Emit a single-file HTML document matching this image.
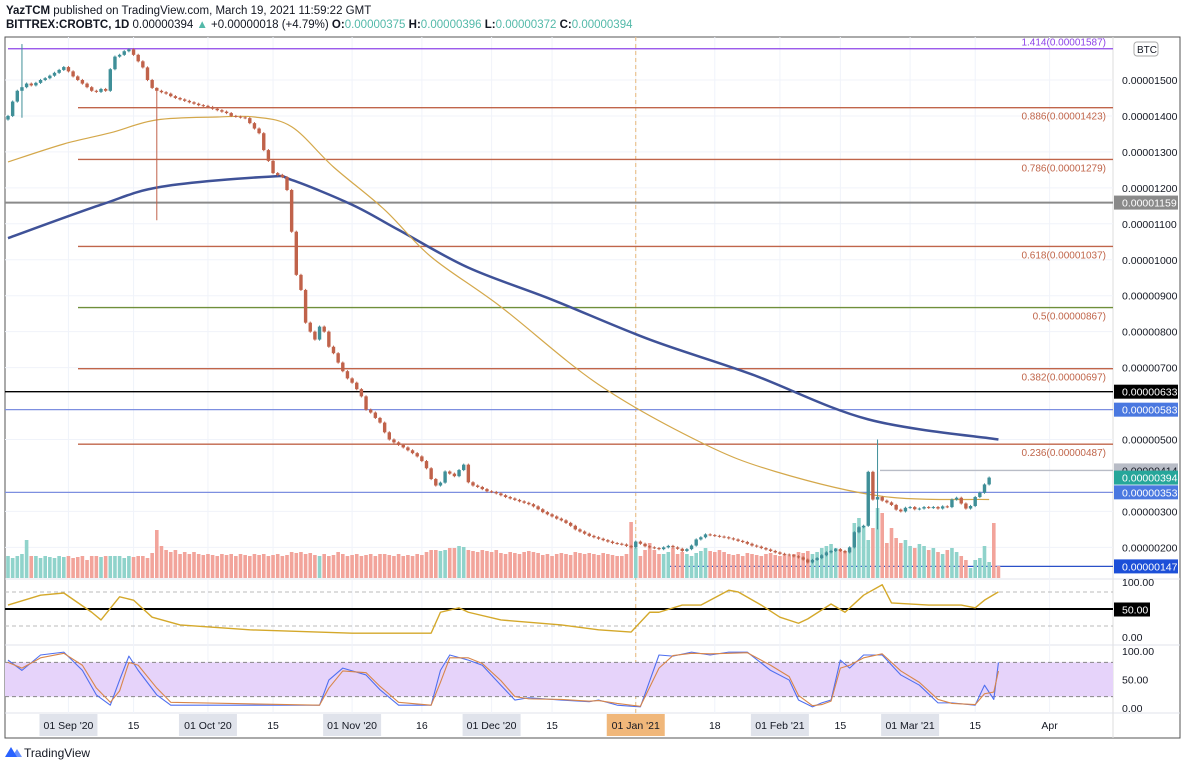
<!DOCTYPE html>
<html><head><meta charset="utf-8"><style>
body{margin:0;background:#fff;font-family:"Liberation Sans",sans-serif;}
svg text{font-family:"Liberation Sans",sans-serif;}
</style></head><body>
<svg id="chart" width="1186" height="768" xmlns="http://www.w3.org/2000/svg">
<rect width="1186" height="768" fill="#fff"/>
<text x="6" y="14" font-size="11.5" fill="#131722"><tspan font-weight="bold">YazTCM</tspan> published on TradingView.com, March 19, 2021 11:59:22 GMT</text>
<text x="6" y="28" font-size="11.5" fill="#131722"><tspan font-weight="bold">BITTREX:CROBTC, 1D</tspan> 0.00000394 <tspan fill="#53b9a9">▲</tspan> +0.00000018 (+4.79%) <tspan font-weight="bold">O:</tspan><tspan fill="#53b9a9">0.00000375</tspan> <tspan font-weight="bold">H:</tspan><tspan fill="#53b9a9">0.00000396</tspan> <tspan font-weight="bold">L:</tspan><tspan fill="#53b9a9">0.00000372</tspan> <tspan font-weight="bold">C:</tspan><tspan fill="#53b9a9">0.00000394</tspan></text>
<rect x="5" y="37" width="1175" height="701" fill="none" stroke="#555" stroke-width="1"/>
<line x1="1113" y1="37" x2="1113" y2="738" stroke="#ddd"/>
<line x1="5" y1="579" x2="1180" y2="579" stroke="#e0e3eb"/>
<line x1="5" y1="645" x2="1180" y2="645" stroke="#e0e3eb"/>
<line x1="5" y1="713" x2="1180" y2="713" stroke="#e0e3eb"/>
<g id="grid"></g>
<g id="levels"></g>
<g id="vol"></g>
<g id="ma"></g>
<g id="candles"></g>
<g id="osc"></g>
<g id="axes"></g>
<g>
<rect x="1134" y="42" width="24" height="14" rx="3" fill="#fff" stroke="#aaa"/>
<text x="1137" y="53" font-size="10" fill="#131722">BTC</text></g>
<g>
<path d="M5 757 l6-10 l6 10 z" fill="#2962ff"/><path d="M12 757 l5-8 l5 8z" fill="#2962ff" opacity=".7"/>
<text x="24" y="757" font-size="12" fill="#131722">TradingView</text></g>
</svg>
<script>
// ---- data ----
const closes=[1400,1440,1470,1480,1490,1485,1492,1500,1505,1512,1520,1528,1536,1524,1510,1500,1490,1480,1470,1467,1475,1470,1530,1565,1570,1580,1585,1570,1552,1535,1500,1478,1470,1466,1462,1455,1450,1446,1442,1438,1434,1430,1428,1425,1420,1416,1412,1408,1400,1398,1396,1394,1380,1365,1352,1305,1275,1241,1236,1230,1194,1078,958,916,825,800,778,814,800,758,740,714,690,670,658,640,620,583,575,560,547,520,500,492,485,478,470,462,453,440,420,390,372,380,411,405,398,415,430,381,372,368,362,356,354,350,345,340,336,332,328,324,320,314,306,298,292,286,280,275,268,260,250,244,238,232,228,224,220,216,212,210,208,204,200,216,210,203,200,198,195,200,204,200,196,190,195,205,222,228,236,234,232,230,228,225,222,218,215,210,205,202,198,194,190,186,182,180,178,175,172,166,158,165,170,178,186,190,195,190,186,200,242,256,260,410,333,340,330,325,318,305,300,310,312,306,308,312,310,312,308,314,312,333,338,322,308,315,340,352,375,394];
const volumes=[22,20,22,24,38,22,22,20,22,21,20,22,21,22,20,21,22,18,22,22,21,22,22,22,22,20,22,21,22,22,20,25,48,32,28,26,28,24,26,24,26,24,23,24,23,22,24,23,24,22,24,23,22,24,23,24,22,23,24,22,23,26,25,26,24,25,23,22,24,22,23,26,24,22,23,24,22,23,24,22,24,24,23,22,24,22,23,22,24,23,26,28,28,27,28,30,30,32,31,28,27,26,28,27,26,28,25,24,26,25,24,26,27,26,25,23,24,22,24,25,24,23,26,25,24,25,24,23,25,24,23,22,22,24,56,30,22,28,35,28,24,24,26,30,24,26,24,22,25,27,30,27,26,28,26,24,23,24,22,25,24,23,22,24,25,23,22,24,22,24,26,25,27,24,26,30,32,34,30,28,26,30,55,60,52,38,50,70,65,35,50,40,35,38,32,30,34,32,28,30,26,24,28,30,26,22,18,10,18,20,32,16,55,12];
const wickIdx=[3,32,187];
const wickHigh=[1600,1480,500];
const wickLow=[1395,1110,250];
const maSlowIdx=[0,20,33,56,61,74,84,99,117,138,160,185,213];
const maSlowVal=[1060,1153,1203,1231,1222,1153,1083,978,889,778,681,556,500];
const maFastIdx=[0,12,22,32,45,53,61,70,81,91,106,127,149,165,188,211];
const maFastVal=[1272,1322,1353,1389,1397,1397,1370,1258,1139,1008,869,653,492,411,342,333];
const rsiIdx=[0,7,12,18,20,24,27,31,37,52,74,91,93,97,99,106,119,127,134,138,140,145,149,153,155,157,162,166,170,172,177,180,184,188,190,198,205,208,210,213];
const rsiVal=[58,76,80,45,31,73,67,36,22,13,7,7,45,53,45,31,22,13,9,45,45,58,58,76,85,82,58,36,25,33,60,45,76,95,62,58,58,53,67,82];
const stochIdx=[0,3,7,12,16,19,22,24,26,28,32,35,67,69,72,77,80,84,91,93,95,99,102,106,109,112,119,125,127,131,136,140,143,147,151,155,159,164,168,170,173,175,177,179,181,184,188,192,196,200,203,208,210,212,213];
const stochK=[84,66,93,98,66,23,5,49,91,66,23,5,5,49,70,58,32,5,5,66,93,84,75,40,14,18,14,11,14,5,2,93,91,98,93,98,98,66,49,14,2,9,14,84,70,93,93,58,40,9,9,5,40,15,80];
const stochD=[80,70,88,96,75,35,10,30,80,75,35,10,5,35,65,62,38,10,5,45,88,88,78,48,20,16,15,12,13,8,3,70,92,96,95,96,97,75,55,22,4,6,12,70,75,88,95,65,45,15,8,6,25,28,65];
const hLevels=[1587,1423,1279,1159,1037,867,697,633,583,487,414,353,147];
const hLabels=['1.414(0.00001587)','0.886(0.00001423)','0.786(0.00001279)','','0.618(0.00001037)','0.5(0.00000867)','0.382(0.00000697)','','','0.236(0.00000487)','','',''];
const hColors=['#8e44e8','#c0654a','#c0654a','#8a8a8a','#c0654a','#6f8f3a','#c0654a','#000','#7d8fe0','#c0654a','#b8bcc6','#7d8fe0','#2a50c8'];
const hStart=[8,78,78,5,78,78,78,5,5,78,880,5,670];
const priceTicks=[1500,1400,1300,1200,1100,1000,900,800,700,500,300,200];
const badgeVals=[1159,633,583,414,394,353,147];
const badgeColors=['#8a8a8a','#000','#4a78e0','#b8bcc6','#26a69a','#4a78e0','#1c4fd8'];
const dateIdx=[13,27,43,57,74,89,104,117,135,152,166,179,194,208,224];
const dateLbl=['01 Sep \'20','15','01 Oct \'20','15','01 Nov \'20','16','01 Dec \'20','15','01 Jan \'21','18','01 Feb \'21','15','01 Mar \'21','15','Apr'];
// ---- scales ----
const X=i=>8+4.65*i;
const Y=v=>80+(1500-v)*0.3595;
const VB=578, VS=1;
const YR=v=>637-v*0.55;
const YS=v=>708-v*0.57;
const NS='http://www.w3.org/2000/svg';
function mk(t,p,a){const e=document.createElementNS(NS,t);for(const k in a)e.setAttribute(k,a[k]);p.appendChild(e);return e;}
const grid=document.getElementById('grid'),lv=document.getElementById('levels'),vol=document.getElementById('vol'),ma=document.getElementById('ma'),cg=document.getElementById('candles'),osc=document.getElementById('osc'),ax=document.getElementById('axes');
dateIdx.forEach((d,k)=>{const l=mk('line',grid,{x1:X(d),y1:37,x2:X(d),y2:713,stroke:'#f0f3fa'});

});
priceTicks.forEach(p=>{const l=mk('line',grid,{x1:5,y1:Y(p),x2:1113,y2:Y(p),stroke:'#f0f3fa'});

});
const vd=mk('line',grid,{x1:X(135),y1:37,x2:X(135),y2:713,stroke:'#e8b77a','stroke-dasharray':'4 3'});


hLevels.forEach((v,k)=>{const y=Y(v);
const l=mk('line',lv,{x1:hStart[k],y1:y,x2:1113,y2:y,stroke:hColors[k],'stroke-width':k==3?2:1.3});


if(hLabels[k]){const t=mk('text',lv,{x:1106,y:k==0?y-3:y+12,'font-size':10,'text-anchor':'end',fill:hColors[k]=='#6f8f3a'?'#c0654a':hColors[k]});t.textContent=hLabels[k];

}});
volumes.forEach((v,i)=>{const up=i==0||closes[i]>=closes[i-1];
const r=mk('rect',vol,{x:X(i)-1.8,y:VB-v*VS,width:3.6,height:v*VS,fill:up?'#90d3cb':'#f2a49b'});

});
function pl(idx,val,col,w,name,g,sy){const p=mk('polyline',g,{points:idx.map((d,k)=>X(d)+','+sy(val[k])).join(' '),fill:'none',stroke:col,'stroke-width':w,'stroke-linejoin':'round'});

}
function smooth(idx,val,col,w,name,g,sy){const P=idx.map((d,k)=>[X(d),sy(val[k])]);let s='M'+P[0][0]+','+P[0][1];
for(let k=0;k<P.length-1;k++){const p0=P[k-1]||P[k],p1=P[k],p2=P[k+1],p3=P[k+2]||P[k+1];
s+=' C'+(p1[0]+(p2[0]-p0[0])/6)+','+(p1[1]+(p2[1]-p0[1])/6)+' '+(p2[0]-(p3[0]-p1[0])/6)+','+(p2[1]-(p3[1]-p1[1])/6)+' '+p2[0]+','+p2[1];}
const p=mk('path',g,{d:s,fill:'none',stroke:col,'stroke-width':w});

}
smooth(maSlowIdx,maSlowVal,'#3f5298',2.5,'ma-200-line',ma,Y);
smooth(maFastIdx,maFastVal,'#d4a84b',1.2,'ma-50-line',ma,Y);
closes.forEach((c,i)=>{const o=i==0?c-10:closes[i-1];const up=c>=o;const col=up?'#3f8f98':'#c0624a';
let hi=Math.max(o,c)+3,lo=Math.min(o,c)-3;const w=wickIdx.indexOf(i);if(w>=0){hi=wickHigh[w];lo=wickLow[w];}
const wl=mk('line',cg,{x1:X(i),y1:Y(hi),x2:X(i),y2:Y(lo),stroke:col,'stroke-width':1});


const top=Y(Math.max(o,c)),h=Math.max(1,Math.abs(Y(o)-Y(c)));
const b=mk('rect',cg,{x:X(i)-1.7,y:top,width:3.4,height:h,fill:col});

});
[[592,'#bbb',1,'4 3'],[626,'#bbb',1,'4 3'],[609,'#000',2,'']].forEach(a=>{const l=mk('line',osc,{x1:5,y1:a[0],x2:1113,y2:a[0],stroke:a[1],'stroke-width':a[2],'stroke-dasharray':a[3]});

});
const band=mk('rect',osc,{x:5,y:YS(80),width:1108,height:YS(20)-YS(80),fill:'#e6d3fa'});


[80,20].forEach(v=>{const l=mk('line',osc,{x1:5,y1:YS(v),x2:1113,y2:YS(v),stroke:'#888','stroke-dasharray':'4 3'});

});
pl(rsiIdx,rsiVal,'#d4a82a',1.4,'rsi-line',osc,YR);
pl(stochIdx,stochK,'#4f6ff0',1.1,'stoch-k-line',osc,YS);
pl(stochIdx,stochD,'#d8864a',1.1,'stoch-d-line',osc,YS);
priceTicks.forEach(p=>{const t=mk('text',ax,{x:1122,y:Y(p)+4,'font-size':10.5,fill:'#131722'});t.textContent=(p/1e8).toFixed(8);

});
badgeVals.forEach((v,k)=>{const y=Y(v);const r=mk('rect',ax,{x:1114,y:y-7,width:64,height:14,fill:badgeColors[k]});


const t=mk('text',ax,{x:1122,y:y+4,'font-size':10.5,fill:k==3?'#131722':'#fff'});t.textContent=(v/1e8).toFixed(8);

});
[[100,YR],[0,YR],[100,YS],[50,YS],[0,YS]].forEach(a=>{const t=mk('text',ax,{x:1122,y:a[1](a[0])+4,'font-size':10.5,fill:'#131722'});t.textContent=a[0].toFixed(2);

});
const rb=mk('rect',ax,{x:1114,y:YR(50)-7,width:36,height:14,fill:'#000'});


const rt=mk('text',ax,{x:1122,y:YR(50)+4,'font-size':10.5,fill:'#fff'});rt.textContent='50.00';


dateIdx.forEach((d,k)=>{const x=X(d);const lab=dateLbl[k];
if(lab.startsWith('01')){const r=mk('rect',ax,{x:x-29,y:714,width:58,height:22,fill:k==8?'#f0b77a':'#e0e3eb'});

}
const t=mk('text',ax,{x:x,y:729,'font-size':10.5,'text-anchor':'middle',fill:'#131722'});t.textContent=lab;

});
</script>
</body></html>
